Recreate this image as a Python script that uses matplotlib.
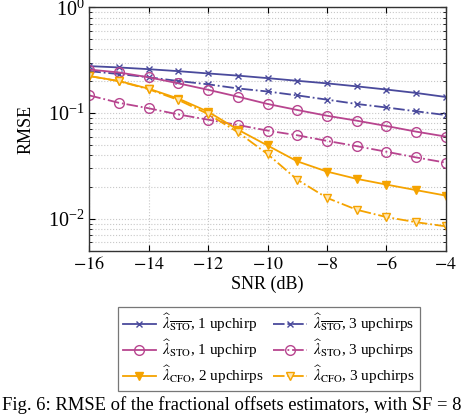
import matplotlib
matplotlib.use("Agg")
import matplotlib.pyplot as plt
from matplotlib.ticker import LogLocator, NullFormatter

plt.rcParams['font.family'] = ['Liberation Serif', 'DejaVu Serif']
plt.rcParams['mathtext.fontset'] = 'stix'

snr = [-16, -15, -14, -13, -12, -11, -10, -9, -8, -7, -6, -5, -4]

sto_bar_1 = [0.278, 0.270, 0.260, 0.249, 0.237, 0.226, 0.214, 0.202, 0.191, 0.179, 0.167, 0.155, 0.142]
sto_bar_3 = [0.249, 0.234, 0.218, 0.201, 0.187, 0.171, 0.160, 0.147, 0.134, 0.122, 0.113, 0.104, 0.0958]
sto_1 = [0.258, 0.242, 0.218, 0.191, 0.166, 0.143, 0.122, 0.107, 0.0944, 0.0848, 0.0755, 0.0668, 0.060]
sto_3 = [0.147, 0.125, 0.111, 0.097, 0.0866, 0.0772, 0.0683, 0.0617, 0.0546, 0.0487, 0.0431, 0.0381, 0.034]
cfo_2 = [0.224, 0.201, 0.170, 0.137, 0.103, 0.0698, 0.0494, 0.035, 0.028, 0.0239, 0.0211, 0.0187, 0.0166]
cfo_3 = [0.224, 0.200, 0.168, 0.133, 0.098, 0.066, 0.041, 0.0235, 0.0158, 0.0122, 0.0104, 0.0093, 0.0085]

labels = [r'$\widehat{\lambda}_{\overline{\mathrm{STO}}}$, 1 upchirp',
          r'$\widehat{\lambda}_{\overline{\mathrm{STO}}}$, 3 upchirps',
          r'$\widehat{\lambda}_{\mathrm{STO}}$, 1 upchirp',
          r'$\widehat{\lambda}_{\mathrm{STO}}$, 3 upchirps',
          r'$\widehat{\lambda}_{\mathrm{CFO}}$, 2 upchirps',
          r'$\widehat{\lambda}_{\mathrm{CFO}}$, 3 upchirps']

blue = '#4a4a9c'
pink = '#b8458f'
orange = '#f5a300'

fig = plt.figure(figsize=(4.74, 4.15), dpi=100)
ax = fig.add_axes([0.1884, 0.3959, 0.7519, 0.5865])

l1, = ax.plot(snr, sto_bar_1, '-', color=blue, marker='x', ms=5, lw=1.3, label=labels[0])
l2, = ax.plot(snr, sto_bar_3, '-.', color=blue, marker='x', ms=5, lw=1.3, label=labels[1])
l3, = ax.plot(snr, sto_1, '-', color=pink, marker='o', ms=7, mfc='none', lw=1.3, label=labels[2])
l4, = ax.plot(snr, sto_3, '-.', color=pink, marker='o', ms=7, mfc='none', lw=1.3, label=labels[3])
l5, = ax.plot(snr, cfo_2, '-', color=orange, marker='v', ms=6, lw=1.3, label=labels[4])
l6, = ax.plot(snr, cfo_3, '-.', color=orange, marker='v', ms=6, mfc='#ffe6b0', lw=1.3, label=labels[5])

ax.set_yscale('log')
ax.set_xlim(-16, -4)
ax.set_ylim(5e-3, 1)
ax.set_xticks([-16, -14, -12, -10, -8, -6, -4])
ax.set_xticklabels([r'$-16$', r'$-14$', r'$-12$', r'$-10$', r'$-8$', r'$-6$', r'$-4$'])
ax.yaxis.set_major_locator(LogLocator(base=10, numticks=10))
ax.yaxis.set_minor_locator(LogLocator(base=10, subs=range(2, 10), numticks=10))
ax.yaxis.set_minor_formatter(NullFormatter())
ax.tick_params(which='both', direction='in', top=True, right=True, labelsize=13)
ax.tick_params(axis='y', which='major', labelsize=14.5)
ax.tick_params(which='major', length=4)
ax.tick_params(which='minor', length=2)
ax.grid(True, which='major', ls=':', color='#c8c8c8', lw=0.8)
ax.grid(True, which='minor', axis='y', ls=':', color='#c8c8c8', lw=0.8)
for s in ax.spines.values():
    s.set_color('#333333')
    s.set_linewidth(1.0)

ax.set_xlabel('SNR (dB)', fontsize=13, labelpad=2)
ax.set_ylabel('RMSE', fontsize=13, labelpad=10)

handles = [l1, l3, l5, l2, l4, l6]
leg = fig.legend(handles=handles, labels=[h.get_label() for h in handles],
                 loc='center', bbox_to_anchor=(0.567, 0.159), ncol=2, fontsize=11,
                 frameon=True, fancybox=False, edgecolor='#555555', handlelength=2.2,
                 columnspacing=0.6, handletextpad=0.4, labelspacing=0.25, borderpad=0.3)
leg.get_frame().set_linewidth(0.9)

fig.text(0.004, 0.003, 'Fig. 6: RMSE of the fractional offsets estimators, with SF = 8',
         fontsize=13.4, va='bottom', ha='left')

fig.savefig('out.png', dpi=100)
